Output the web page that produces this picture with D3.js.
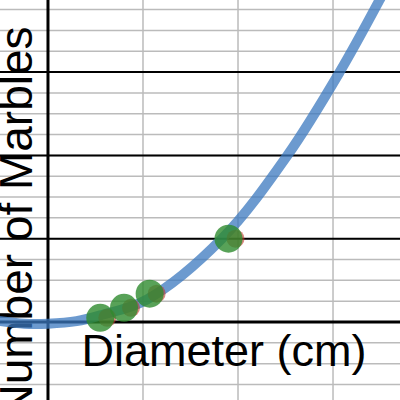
<!DOCTYPE html><html><head><script src="https://cdn.jsdelivr.net/npm/d3@7"></script>
<style>body{margin:0}</style></head><body><svg id="c" width="400" height="400"></svg>
<script>
const pointsX=[0.55,0.8,1.07,1.9];
const pointsY=[0.05,0.17,0.34,1.0];
const curveX=[-0.55,-0.25,0,0.3,0.55,1.04,1.83,2.52,3.07,3.49,3.7];
const curveY=[0.02,-0.02,-0.02,0.01,0.08,0.27,1.0,2.0,3.0,3.865,4.33];
const xTicks=[0,1,2,3];
const yMajor=[-1,0,1,2,3];
const yMinor=d3.range(-4,16).map(i=>i/4);
const xLabel="Diameter (cm)", yLabel="Number of Marbles";
const svg=d3.select("#c");
const x=d3.scaleLinear().domain([-0.505,3.705]).range([0,400]);
const y=d3.scaleLinear().domain([-0.936,3.865]).range([400,0]);
svg.append("rect").attr("width",400).attr("height",400).attr("fill","#fff");
svg.selectAll(".ym").data(yMinor).enter().append("line").attr("x1",0).attr("x2",400).attr("y1",d=>y(d)).attr("y2",d=>y(d)).attr("stroke","#bbb").attr("stroke-width",1.5);
svg.selectAll(".xg").data(xTicks.slice(1)).enter().append("line").attr("y1",0).attr("y2",400).attr("x1",d=>x(d)).attr("x2",d=>x(d)).attr("stroke","#bbb").attr("stroke-width",1.5);
svg.selectAll(".yM").data(yMajor).enter().append("line").attr("x1",0).attr("x2",400).attr("y1",d=>y(d)).attr("y2",d=>y(d)).attr("stroke","#000").attr("stroke-width",d=>d===0?3:2);
svg.append("line").attr("x1",x(0)).attr("x2",x(0)).attr("y1",0).attr("y2",400).attr("stroke","#000").attr("stroke-width",3);
svg.append("text").attr("x",224).attr("y",366).attr("text-anchor","middle").attr("font-family","Liberation Sans, Arial").attr("font-size",45).text(xLabel);
svg.append("text").attr("transform","translate(32,222) rotate(-90)").attr("text-anchor","middle").attr("font-family","Liberation Sans, Arial").attr("font-size",46).text(yLabel);
svg.append("path").datum(curveX.map((d,i)=>[d,curveY[i]])).attr("d",d3.line().x(d=>x(d[0])).y(d=>y(d[1])).curve(d3.curveCatmullRom)).attr("fill","none").attr("stroke","#3b78bf").attr("stroke-opacity",0.75).attr("stroke-width",10);
const pts=pointsX.map((d,i)=>[d,pointsY[i]]);
svg.selectAll(".pr").data(pts).enter().append("circle").attr("cx",d=>x(d[0])+7).attr("cy",d=>y(d[1])).attr("r",9).attr("fill","#c0392b").attr("opacity",0.6);
svg.selectAll(".pg").data(pts).enter().append("circle").attr("cx",d=>x(d[0])).attr("cy",d=>y(d[1])).attr("r",14).attr("fill","#2e8b2e").attr("opacity",0.8);
</script></body></html>
